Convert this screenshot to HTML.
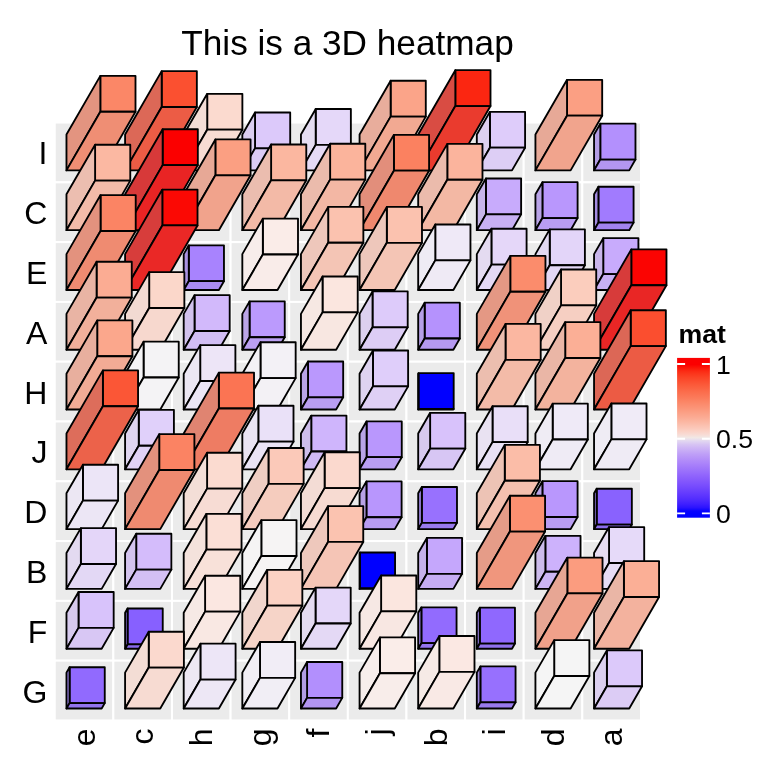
<!DOCTYPE html>
<html><head><meta charset="utf-8"><title>3D heatmap</title>
<style>html,body{margin:0;padding:0;background:#fff}svg{display:block}text{font-family:"Liberation Sans",sans-serif;fill:#000}</style>
</head><body>
<svg width="768" height="768" viewBox="0 0 768 768">
<rect width="768" height="768" fill="#fff"/>
<rect x="54.75" y="122.55" width="58.62" height="59.79" fill="#EBEBEB" stroke="#FFFFFF" stroke-width="2.0"/>
<rect x="113.37" y="122.55" width="58.62" height="59.79" fill="#EBEBEB" stroke="#FFFFFF" stroke-width="2.0"/>
<rect x="171.99" y="122.55" width="58.62" height="59.79" fill="#EBEBEB" stroke="#FFFFFF" stroke-width="2.0"/>
<rect x="230.61" y="122.55" width="58.62" height="59.79" fill="#EBEBEB" stroke="#FFFFFF" stroke-width="2.0"/>
<rect x="289.23" y="122.55" width="58.62" height="59.79" fill="#EBEBEB" stroke="#FFFFFF" stroke-width="2.0"/>
<rect x="347.85" y="122.55" width="58.62" height="59.79" fill="#EBEBEB" stroke="#FFFFFF" stroke-width="2.0"/>
<rect x="406.47" y="122.55" width="58.62" height="59.79" fill="#EBEBEB" stroke="#FFFFFF" stroke-width="2.0"/>
<rect x="465.09" y="122.55" width="58.62" height="59.79" fill="#EBEBEB" stroke="#FFFFFF" stroke-width="2.0"/>
<rect x="523.71" y="122.55" width="58.62" height="59.79" fill="#EBEBEB" stroke="#FFFFFF" stroke-width="2.0"/>
<rect x="582.33" y="122.55" width="58.62" height="59.79" fill="#EBEBEB" stroke="#FFFFFF" stroke-width="2.0"/>
<rect x="54.75" y="182.34" width="58.62" height="59.79" fill="#EBEBEB" stroke="#FFFFFF" stroke-width="2.0"/>
<rect x="113.37" y="182.34" width="58.62" height="59.79" fill="#EBEBEB" stroke="#FFFFFF" stroke-width="2.0"/>
<rect x="171.99" y="182.34" width="58.62" height="59.79" fill="#EBEBEB" stroke="#FFFFFF" stroke-width="2.0"/>
<rect x="230.61" y="182.34" width="58.62" height="59.79" fill="#EBEBEB" stroke="#FFFFFF" stroke-width="2.0"/>
<rect x="289.23" y="182.34" width="58.62" height="59.79" fill="#EBEBEB" stroke="#FFFFFF" stroke-width="2.0"/>
<rect x="347.85" y="182.34" width="58.62" height="59.79" fill="#EBEBEB" stroke="#FFFFFF" stroke-width="2.0"/>
<rect x="406.47" y="182.34" width="58.62" height="59.79" fill="#EBEBEB" stroke="#FFFFFF" stroke-width="2.0"/>
<rect x="465.09" y="182.34" width="58.62" height="59.79" fill="#EBEBEB" stroke="#FFFFFF" stroke-width="2.0"/>
<rect x="523.71" y="182.34" width="58.62" height="59.79" fill="#EBEBEB" stroke="#FFFFFF" stroke-width="2.0"/>
<rect x="582.33" y="182.34" width="58.62" height="59.79" fill="#EBEBEB" stroke="#FFFFFF" stroke-width="2.0"/>
<rect x="54.75" y="242.13" width="58.62" height="59.79" fill="#EBEBEB" stroke="#FFFFFF" stroke-width="2.0"/>
<rect x="113.37" y="242.13" width="58.62" height="59.79" fill="#EBEBEB" stroke="#FFFFFF" stroke-width="2.0"/>
<rect x="171.99" y="242.13" width="58.62" height="59.79" fill="#EBEBEB" stroke="#FFFFFF" stroke-width="2.0"/>
<rect x="230.61" y="242.13" width="58.62" height="59.79" fill="#EBEBEB" stroke="#FFFFFF" stroke-width="2.0"/>
<rect x="289.23" y="242.13" width="58.62" height="59.79" fill="#EBEBEB" stroke="#FFFFFF" stroke-width="2.0"/>
<rect x="347.85" y="242.13" width="58.62" height="59.79" fill="#EBEBEB" stroke="#FFFFFF" stroke-width="2.0"/>
<rect x="406.47" y="242.13" width="58.62" height="59.79" fill="#EBEBEB" stroke="#FFFFFF" stroke-width="2.0"/>
<rect x="465.09" y="242.13" width="58.62" height="59.79" fill="#EBEBEB" stroke="#FFFFFF" stroke-width="2.0"/>
<rect x="523.71" y="242.13" width="58.62" height="59.79" fill="#EBEBEB" stroke="#FFFFFF" stroke-width="2.0"/>
<rect x="582.33" y="242.13" width="58.62" height="59.79" fill="#EBEBEB" stroke="#FFFFFF" stroke-width="2.0"/>
<rect x="54.75" y="301.92" width="58.62" height="59.79" fill="#EBEBEB" stroke="#FFFFFF" stroke-width="2.0"/>
<rect x="113.37" y="301.92" width="58.62" height="59.79" fill="#EBEBEB" stroke="#FFFFFF" stroke-width="2.0"/>
<rect x="171.99" y="301.92" width="58.62" height="59.79" fill="#EBEBEB" stroke="#FFFFFF" stroke-width="2.0"/>
<rect x="230.61" y="301.92" width="58.62" height="59.79" fill="#EBEBEB" stroke="#FFFFFF" stroke-width="2.0"/>
<rect x="289.23" y="301.92" width="58.62" height="59.79" fill="#EBEBEB" stroke="#FFFFFF" stroke-width="2.0"/>
<rect x="347.85" y="301.92" width="58.62" height="59.79" fill="#EBEBEB" stroke="#FFFFFF" stroke-width="2.0"/>
<rect x="406.47" y="301.92" width="58.62" height="59.79" fill="#EBEBEB" stroke="#FFFFFF" stroke-width="2.0"/>
<rect x="465.09" y="301.92" width="58.62" height="59.79" fill="#EBEBEB" stroke="#FFFFFF" stroke-width="2.0"/>
<rect x="523.71" y="301.92" width="58.62" height="59.79" fill="#EBEBEB" stroke="#FFFFFF" stroke-width="2.0"/>
<rect x="582.33" y="301.92" width="58.62" height="59.79" fill="#EBEBEB" stroke="#FFFFFF" stroke-width="2.0"/>
<rect x="54.75" y="361.71" width="58.62" height="59.79" fill="#EBEBEB" stroke="#FFFFFF" stroke-width="2.0"/>
<rect x="113.37" y="361.71" width="58.62" height="59.79" fill="#EBEBEB" stroke="#FFFFFF" stroke-width="2.0"/>
<rect x="171.99" y="361.71" width="58.62" height="59.79" fill="#EBEBEB" stroke="#FFFFFF" stroke-width="2.0"/>
<rect x="230.61" y="361.71" width="58.62" height="59.79" fill="#EBEBEB" stroke="#FFFFFF" stroke-width="2.0"/>
<rect x="289.23" y="361.71" width="58.62" height="59.79" fill="#EBEBEB" stroke="#FFFFFF" stroke-width="2.0"/>
<rect x="347.85" y="361.71" width="58.62" height="59.79" fill="#EBEBEB" stroke="#FFFFFF" stroke-width="2.0"/>
<rect x="406.47" y="361.71" width="58.62" height="59.79" fill="#EBEBEB" stroke="#FFFFFF" stroke-width="2.0"/>
<rect x="465.09" y="361.71" width="58.62" height="59.79" fill="#EBEBEB" stroke="#FFFFFF" stroke-width="2.0"/>
<rect x="523.71" y="361.71" width="58.62" height="59.79" fill="#EBEBEB" stroke="#FFFFFF" stroke-width="2.0"/>
<rect x="582.33" y="361.71" width="58.62" height="59.79" fill="#EBEBEB" stroke="#FFFFFF" stroke-width="2.0"/>
<rect x="54.75" y="421.50" width="58.62" height="59.79" fill="#EBEBEB" stroke="#FFFFFF" stroke-width="2.0"/>
<rect x="113.37" y="421.50" width="58.62" height="59.79" fill="#EBEBEB" stroke="#FFFFFF" stroke-width="2.0"/>
<rect x="171.99" y="421.50" width="58.62" height="59.79" fill="#EBEBEB" stroke="#FFFFFF" stroke-width="2.0"/>
<rect x="230.61" y="421.50" width="58.62" height="59.79" fill="#EBEBEB" stroke="#FFFFFF" stroke-width="2.0"/>
<rect x="289.23" y="421.50" width="58.62" height="59.79" fill="#EBEBEB" stroke="#FFFFFF" stroke-width="2.0"/>
<rect x="347.85" y="421.50" width="58.62" height="59.79" fill="#EBEBEB" stroke="#FFFFFF" stroke-width="2.0"/>
<rect x="406.47" y="421.50" width="58.62" height="59.79" fill="#EBEBEB" stroke="#FFFFFF" stroke-width="2.0"/>
<rect x="465.09" y="421.50" width="58.62" height="59.79" fill="#EBEBEB" stroke="#FFFFFF" stroke-width="2.0"/>
<rect x="523.71" y="421.50" width="58.62" height="59.79" fill="#EBEBEB" stroke="#FFFFFF" stroke-width="2.0"/>
<rect x="582.33" y="421.50" width="58.62" height="59.79" fill="#EBEBEB" stroke="#FFFFFF" stroke-width="2.0"/>
<rect x="54.75" y="481.29" width="58.62" height="59.79" fill="#EBEBEB" stroke="#FFFFFF" stroke-width="2.0"/>
<rect x="113.37" y="481.29" width="58.62" height="59.79" fill="#EBEBEB" stroke="#FFFFFF" stroke-width="2.0"/>
<rect x="171.99" y="481.29" width="58.62" height="59.79" fill="#EBEBEB" stroke="#FFFFFF" stroke-width="2.0"/>
<rect x="230.61" y="481.29" width="58.62" height="59.79" fill="#EBEBEB" stroke="#FFFFFF" stroke-width="2.0"/>
<rect x="289.23" y="481.29" width="58.62" height="59.79" fill="#EBEBEB" stroke="#FFFFFF" stroke-width="2.0"/>
<rect x="347.85" y="481.29" width="58.62" height="59.79" fill="#EBEBEB" stroke="#FFFFFF" stroke-width="2.0"/>
<rect x="406.47" y="481.29" width="58.62" height="59.79" fill="#EBEBEB" stroke="#FFFFFF" stroke-width="2.0"/>
<rect x="465.09" y="481.29" width="58.62" height="59.79" fill="#EBEBEB" stroke="#FFFFFF" stroke-width="2.0"/>
<rect x="523.71" y="481.29" width="58.62" height="59.79" fill="#EBEBEB" stroke="#FFFFFF" stroke-width="2.0"/>
<rect x="582.33" y="481.29" width="58.62" height="59.79" fill="#EBEBEB" stroke="#FFFFFF" stroke-width="2.0"/>
<rect x="54.75" y="541.08" width="58.62" height="59.79" fill="#EBEBEB" stroke="#FFFFFF" stroke-width="2.0"/>
<rect x="113.37" y="541.08" width="58.62" height="59.79" fill="#EBEBEB" stroke="#FFFFFF" stroke-width="2.0"/>
<rect x="171.99" y="541.08" width="58.62" height="59.79" fill="#EBEBEB" stroke="#FFFFFF" stroke-width="2.0"/>
<rect x="230.61" y="541.08" width="58.62" height="59.79" fill="#EBEBEB" stroke="#FFFFFF" stroke-width="2.0"/>
<rect x="289.23" y="541.08" width="58.62" height="59.79" fill="#EBEBEB" stroke="#FFFFFF" stroke-width="2.0"/>
<rect x="347.85" y="541.08" width="58.62" height="59.79" fill="#EBEBEB" stroke="#FFFFFF" stroke-width="2.0"/>
<rect x="406.47" y="541.08" width="58.62" height="59.79" fill="#EBEBEB" stroke="#FFFFFF" stroke-width="2.0"/>
<rect x="465.09" y="541.08" width="58.62" height="59.79" fill="#EBEBEB" stroke="#FFFFFF" stroke-width="2.0"/>
<rect x="523.71" y="541.08" width="58.62" height="59.79" fill="#EBEBEB" stroke="#FFFFFF" stroke-width="2.0"/>
<rect x="582.33" y="541.08" width="58.62" height="59.79" fill="#EBEBEB" stroke="#FFFFFF" stroke-width="2.0"/>
<rect x="54.75" y="600.87" width="58.62" height="59.79" fill="#EBEBEB" stroke="#FFFFFF" stroke-width="2.0"/>
<rect x="113.37" y="600.87" width="58.62" height="59.79" fill="#EBEBEB" stroke="#FFFFFF" stroke-width="2.0"/>
<rect x="171.99" y="600.87" width="58.62" height="59.79" fill="#EBEBEB" stroke="#FFFFFF" stroke-width="2.0"/>
<rect x="230.61" y="600.87" width="58.62" height="59.79" fill="#EBEBEB" stroke="#FFFFFF" stroke-width="2.0"/>
<rect x="289.23" y="600.87" width="58.62" height="59.79" fill="#EBEBEB" stroke="#FFFFFF" stroke-width="2.0"/>
<rect x="347.85" y="600.87" width="58.62" height="59.79" fill="#EBEBEB" stroke="#FFFFFF" stroke-width="2.0"/>
<rect x="406.47" y="600.87" width="58.62" height="59.79" fill="#EBEBEB" stroke="#FFFFFF" stroke-width="2.0"/>
<rect x="465.09" y="600.87" width="58.62" height="59.79" fill="#EBEBEB" stroke="#FFFFFF" stroke-width="2.0"/>
<rect x="523.71" y="600.87" width="58.62" height="59.79" fill="#EBEBEB" stroke="#FFFFFF" stroke-width="2.0"/>
<rect x="582.33" y="600.87" width="58.62" height="59.79" fill="#EBEBEB" stroke="#FFFFFF" stroke-width="2.0"/>
<rect x="54.75" y="660.66" width="58.62" height="59.79" fill="#EBEBEB" stroke="#FFFFFF" stroke-width="2.0"/>
<rect x="113.37" y="660.66" width="58.62" height="59.79" fill="#EBEBEB" stroke="#FFFFFF" stroke-width="2.0"/>
<rect x="171.99" y="660.66" width="58.62" height="59.79" fill="#EBEBEB" stroke="#FFFFFF" stroke-width="2.0"/>
<rect x="230.61" y="660.66" width="58.62" height="59.79" fill="#EBEBEB" stroke="#FFFFFF" stroke-width="2.0"/>
<rect x="289.23" y="660.66" width="58.62" height="59.79" fill="#EBEBEB" stroke="#FFFFFF" stroke-width="2.0"/>
<rect x="347.85" y="660.66" width="58.62" height="59.79" fill="#EBEBEB" stroke="#FFFFFF" stroke-width="2.0"/>
<rect x="406.47" y="660.66" width="58.62" height="59.79" fill="#EBEBEB" stroke="#FFFFFF" stroke-width="2.0"/>
<rect x="465.09" y="660.66" width="58.62" height="59.79" fill="#EBEBEB" stroke="#FFFFFF" stroke-width="2.0"/>
<rect x="523.71" y="660.66" width="58.62" height="59.79" fill="#EBEBEB" stroke="#FFFFFF" stroke-width="2.0"/>
<rect x="582.33" y="660.66" width="58.62" height="59.79" fill="#EBEBEB" stroke="#FFFFFF" stroke-width="2.0"/>
<g stroke="#000" stroke-width="1.85" stroke-linejoin="round"><polygon fill="#B390FD" points="600.30,159.56 635.47,159.56 635.47,123.69 600.30,123.69"/><polygon fill="#B39DE5" points="594.05,170.38 600.30,159.56 600.30,123.69 594.05,134.51"/><polygon fill="#B396F1" points="594.05,170.38 629.23,170.38 635.47,159.56 600.30,159.56"/></g>
<g stroke="#000" stroke-width="1.85" stroke-linejoin="round"><polygon fill="#FB9F83" points="567.02,115.67 602.19,115.67 602.19,79.80 567.02,79.80"/><polygon fill="#E7A997" points="535.43,170.38 567.02,115.67 567.02,79.80 535.43,134.51"/><polygon fill="#F1A48D" points="535.43,170.38 570.61,170.38 602.19,115.67 567.02,115.67"/></g>
<g stroke="#000" stroke-width="1.85" stroke-linejoin="round"><polygon fill="#DECCFA" points="489.92,147.68 525.09,147.68 525.09,111.81 489.92,111.81"/><polygon fill="#DDD1F0" points="476.81,170.38 489.92,147.68 489.92,111.81 476.81,134.51"/><polygon fill="#DDCEF5" points="476.81,170.38 511.99,170.38 525.09,147.68 489.92,147.68"/></g>
<g stroke="#000" stroke-width="1.85" stroke-linejoin="round"><polygon fill="#FB2611" points="455.33,106.06 490.50,106.06 490.50,70.19 455.33,70.19"/><polygon fill="#D94C43" points="418.19,170.38 455.33,106.06 455.33,70.19 418.19,134.51"/><polygon fill="#EA3B2E" points="418.19,170.38 453.37,170.38 490.50,106.06 455.33,106.06"/></g>
<g stroke="#000" stroke-width="1.85" stroke-linejoin="round"><polygon fill="#FBA489" points="390.62,116.61 425.79,116.61 425.79,80.73 390.62,80.73"/><polygon fill="#E8AD9C" points="359.57,170.38 390.62,116.61 390.62,80.73 359.57,134.51"/><polygon fill="#F2A992" points="359.57,170.38 394.75,170.38 425.79,116.61 390.62,116.61"/></g>
<g stroke="#000" stroke-width="1.85" stroke-linejoin="round"><polygon fill="#E5D8F9" points="315.69,144.85 350.87,144.85 350.87,108.98 315.69,108.98"/><polygon fill="#E4DCF1" points="300.95,170.38 315.69,144.85 315.69,108.98 300.95,134.51"/><polygon fill="#E5DAF5" points="300.95,170.38 336.13,170.38 350.87,144.85 315.69,144.85"/></g>
<g stroke="#000" stroke-width="1.85" stroke-linejoin="round"><polygon fill="#DCC9FA" points="255.03,148.39 290.20,148.39 290.20,112.51 255.03,112.51"/><polygon fill="#DBCEEF" points="242.33,170.38 255.03,148.39 255.03,112.51 242.33,134.51"/><polygon fill="#DBCBF5" points="242.33,170.38 277.51,170.38 290.20,148.39 255.03,148.39"/></g>
<g stroke="#000" stroke-width="1.85" stroke-linejoin="round"><polygon fill="#FBDACF" points="207.21,129.69 242.38,129.69 242.38,93.81 207.21,93.81"/><polygon fill="#F3DDD6" points="183.71,170.38 207.21,129.69 207.21,93.81 183.71,134.51"/><polygon fill="#F7DCD3" points="183.71,170.38 218.89,170.38 242.38,129.69 207.21,129.69"/></g>
<g stroke="#000" stroke-width="1.85" stroke-linejoin="round"><polygon fill="#FB5030" points="161.68,107.02 196.85,107.02 196.85,71.15 161.68,71.15"/><polygon fill="#DC6857" points="125.09,170.38 161.68,107.02 161.68,71.15 125.09,134.51"/><polygon fill="#EC5C45" points="125.09,170.38 160.27,170.38 196.85,107.02 161.68,107.02"/></g>
<g stroke="#000" stroke-width="1.85" stroke-linejoin="round"><polygon fill="#FB8767" points="100.32,111.75 135.50,111.75 135.50,75.88 100.32,75.88"/><polygon fill="#E39480" points="66.47,170.38 100.32,111.75 100.32,75.88 66.47,134.51"/><polygon fill="#EF8E74" points="66.47,170.38 101.65,170.38 135.50,111.75 100.32,111.75"/></g>
<g stroke="#000" stroke-width="1.85" stroke-linejoin="round"><polygon fill="#A17BFE" points="598.41,222.62 633.58,222.62 633.58,186.75 598.41,186.75"/><polygon fill="#A38BE1" points="594.05,230.17 598.41,222.62 598.41,186.75 594.05,194.30"/><polygon fill="#A283EF" points="594.05,230.17 629.23,230.17 633.58,222.62 598.41,222.62"/></g>
<g stroke="#000" stroke-width="1.85" stroke-linejoin="round"><polygon fill="#B997FD" points="542.43,218.05 577.60,218.05 577.60,182.18 542.43,182.18"/><polygon fill="#B9A3E7" points="535.43,230.17 542.43,218.05 542.43,182.18 535.43,194.30"/><polygon fill="#B99DF2" points="535.43,230.17 570.61,230.17 577.60,218.05 542.43,218.05"/></g>
<g stroke="#000" stroke-width="1.85" stroke-linejoin="round"><polygon fill="#C8ABFC" points="485.94,214.37 521.11,214.37 521.11,178.50 485.94,178.50"/><polygon fill="#C7B5EA" points="476.81,230.17 485.94,214.37 485.94,178.50 476.81,194.30"/><polygon fill="#C8B0F3" points="476.81,230.17 511.99,230.17 521.11,214.37 485.94,214.37"/></g>
<g stroke="#000" stroke-width="1.85" stroke-linejoin="round"><polygon fill="#FBB49D" points="447.31,179.74 482.48,179.74 482.48,143.87 447.31,143.87"/><polygon fill="#EBBBAC" points="418.19,230.17 447.31,179.74 447.31,143.87 418.19,194.30"/><polygon fill="#F3B8A4" points="418.19,230.17 453.37,230.17 482.48,179.74 447.31,179.74"/></g>
<g stroke="#000" stroke-width="1.85" stroke-linejoin="round"><polygon fill="#FB8160" points="393.92,170.69 429.09,170.69 429.09,134.81 393.92,134.81"/><polygon fill="#E28E7B" points="359.57,230.17 393.92,170.69 393.92,134.81 359.57,194.30"/><polygon fill="#EF886E" points="359.57,230.17 394.75,230.17 429.09,170.69 393.92,170.69"/></g>
<g stroke="#000" stroke-width="1.85" stroke-linejoin="round"><polygon fill="#FBB49C" points="330.12,179.66 365.29,179.66 365.29,143.79 330.12,143.79"/><polygon fill="#EBBBAC" points="300.95,230.17 330.12,179.66 330.12,143.79 300.95,194.30"/><polygon fill="#F3B7A4" points="300.95,230.17 336.13,230.17 365.29,179.66 330.12,179.66"/></g>
<g stroke="#000" stroke-width="1.85" stroke-linejoin="round"><polygon fill="#FBB7A0" points="271.11,180.33 306.28,180.33 306.28,144.45 271.11,144.45"/><polygon fill="#EBBDAF" points="242.33,230.17 271.11,180.33 271.11,144.45 242.33,194.30"/><polygon fill="#F3BAA7" points="242.33,230.17 277.51,230.17 306.28,180.33 271.11,180.33"/></g>
<g stroke="#000" stroke-width="1.85" stroke-linejoin="round"><polygon fill="#FB9F82" points="215.39,175.31 250.56,175.31 250.56,139.44 215.39,139.44"/><polygon fill="#E7A896" points="183.71,230.17 215.39,175.31 215.39,139.44 183.71,194.30"/><polygon fill="#F1A38C" points="183.71,230.17 218.89,230.17 250.56,175.31 215.39,175.31"/></g>
<g stroke="#000" stroke-width="1.85" stroke-linejoin="round"><polygon fill="#FB0000" points="162.64,165.13 197.82,165.13 197.82,129.26 162.64,129.26"/><polygon fill="#D73939" points="125.09,230.17 162.64,165.13 162.64,129.26 125.09,194.30"/><polygon fill="#E92424" points="125.09,230.17 160.27,230.17 197.82,165.13 162.64,165.13"/></g>
<g stroke="#000" stroke-width="1.85" stroke-linejoin="round"><polygon fill="#FBB8A2" points="95.10,180.60 130.27,180.60 130.27,144.72 95.10,144.72"/><polygon fill="#ECBEB0" points="66.47,230.17 95.10,180.60 95.10,144.72 66.47,194.30"/><polygon fill="#F3BBA9" points="66.47,230.17 101.65,230.17 130.27,180.60 95.10,180.60"/></g>
<g stroke="#000" stroke-width="1.85" stroke-linejoin="round"><polygon fill="#C8ABFC" points="603.24,274.06 638.41,274.06 638.41,238.18 603.24,238.18"/><polygon fill="#C8B5EA" points="594.05,289.96 603.24,274.06 603.24,238.18 594.05,254.09"/><polygon fill="#C8B0F3" points="594.05,289.96 629.23,289.96 638.41,274.06 603.24,274.06"/></g>
<g stroke="#000" stroke-width="1.85" stroke-linejoin="round"><polygon fill="#E3D5F9" points="549.72,265.21 584.90,265.21 584.90,229.34 549.72,229.34"/><polygon fill="#E2D9F1" points="535.43,289.96 549.72,265.21 549.72,229.34 535.43,254.09"/><polygon fill="#E3D7F5" points="535.43,289.96 570.61,289.96 584.90,265.21 549.72,265.21"/></g>
<g stroke="#000" stroke-width="1.85" stroke-linejoin="round"><polygon fill="#E5D7F9" points="491.42,264.67 526.59,264.67 526.59,228.79 491.42,228.79"/><polygon fill="#E4DBF1" points="476.81,289.96 491.42,264.67 491.42,228.79 476.81,254.09"/><polygon fill="#E4D9F5" points="476.81,289.96 511.99,289.96 526.59,264.67 491.42,264.67"/></g>
<g stroke="#000" stroke-width="1.85" stroke-linejoin="round"><polygon fill="#EFE9F7" points="435.28,260.37 470.45,260.37 470.45,224.50 435.28,224.50"/><polygon fill="#EEEBF4" points="418.19,289.96 435.28,260.37 435.28,224.50 418.19,254.09"/><polygon fill="#EFEAF5" points="418.19,289.96 453.37,289.96 470.45,260.37 435.28,260.37"/></g>
<g stroke="#000" stroke-width="1.85" stroke-linejoin="round"><polygon fill="#FBC2AF" points="386.81,242.80 421.98,242.80 421.98,206.92 386.81,206.92"/><polygon fill="#EEC7BB" points="359.57,289.96 386.81,242.80 386.81,206.92 359.57,254.09"/><polygon fill="#F4C5B5" points="359.57,289.96 394.75,289.96 421.98,242.80 386.81,242.80"/></g>
<g stroke="#000" stroke-width="1.85" stroke-linejoin="round"><polygon fill="#FBC2AF" points="328.19,242.78 363.36,242.78 363.36,206.91 328.19,206.91"/><polygon fill="#EEC7BB" points="300.95,289.96 328.19,242.78 328.19,206.91 300.95,254.09"/><polygon fill="#F4C5B5" points="300.95,289.96 336.13,289.96 363.36,242.78 328.19,242.78"/></g>
<g stroke="#000" stroke-width="1.85" stroke-linejoin="round"><polygon fill="#FAECE8" points="262.83,254.46 298.00,254.46 298.00,218.59 262.83,218.59"/><polygon fill="#F7EDEB" points="242.33,289.96 262.83,254.46 262.83,218.59 242.33,254.09"/><polygon fill="#F9ECE9" points="242.33,289.96 277.51,289.96 298.00,254.46 262.83,254.46"/></g>
<g stroke="#000" stroke-width="1.85" stroke-linejoin="round"><polygon fill="#A883FE" points="188.78,281.18 223.96,281.18 223.96,245.31 188.78,245.31"/><polygon fill="#A992E2" points="183.71,289.96 188.78,281.18 188.78,245.31 183.71,254.09"/><polygon fill="#A98BF0" points="183.71,289.96 218.89,289.96 223.96,281.18 188.78,281.18"/></g>
<g stroke="#000" stroke-width="1.85" stroke-linejoin="round"><polygon fill="#FB0904" points="162.34,225.44 197.52,225.44 197.52,189.57 162.34,189.57"/><polygon fill="#D73D3B" points="125.09,289.96 162.34,225.44 162.34,189.57 125.09,254.09"/><polygon fill="#EA2826" points="125.09,289.96 160.27,289.96 197.52,225.44 162.34,225.44"/></g>
<g stroke="#000" stroke-width="1.85" stroke-linejoin="round"><polygon fill="#FB8464" points="100.54,230.96 135.71,230.96 135.71,195.08 100.54,195.08"/><polygon fill="#E3927E" points="66.47,289.96 100.54,230.96 100.54,195.08 66.47,254.09"/><polygon fill="#EF8B71" points="66.47,289.96 101.65,289.96 135.71,230.96 100.54,230.96"/></g>
<g stroke="#000" stroke-width="1.85" stroke-linejoin="round"><polygon fill="#FB0402" points="631.31,285.22 666.48,285.22 666.48,249.35 631.31,249.35"/><polygon fill="#D73B3A" points="594.05,349.75 631.31,285.22 631.31,249.35 594.05,313.88"/><polygon fill="#E92625" points="594.05,349.75 629.23,349.75 666.48,285.22 631.31,285.22"/></g>
<g stroke="#000" stroke-width="1.85" stroke-linejoin="round"><polygon fill="#FBCDBD" points="561.05,305.38 596.22,305.38 596.22,269.51 561.05,269.51"/><polygon fill="#F0D1C7" points="535.43,349.75 561.05,305.38 561.05,269.51 535.43,313.88"/><polygon fill="#F6CFC2" points="535.43,349.75 570.61,349.75 596.22,305.38 561.05,305.38"/></g>
<g stroke="#000" stroke-width="1.85" stroke-linejoin="round"><polygon fill="#FB8C6C" points="510.29,291.77 545.46,291.77 545.46,255.90 510.29,255.90"/><polygon fill="#E49884" points="476.81,349.75 510.29,291.77 510.29,255.90 476.81,313.88"/><polygon fill="#F09279" points="476.81,349.75 511.99,349.75 545.46,291.77 510.29,291.77"/></g>
<g stroke="#000" stroke-width="1.85" stroke-linejoin="round"><polygon fill="#B592FD" points="424.66,338.54 459.84,338.54 459.84,302.67 424.66,302.67"/><polygon fill="#B59FE6" points="418.19,349.75 424.66,338.54 424.66,302.67 418.19,313.88"/><polygon fill="#B599F1" points="418.19,349.75 453.37,349.75 459.84,338.54 424.66,338.54"/></g>
<g stroke="#000" stroke-width="1.85" stroke-linejoin="round"><polygon fill="#DDCBFA" points="372.53,327.30 407.71,327.30 407.71,291.43 372.53,291.43"/><polygon fill="#DCD0EF" points="359.57,349.75 372.53,327.30 372.53,291.43 359.57,313.88"/><polygon fill="#DDCDF5" points="359.57,349.75 394.75,349.75 407.71,327.30 372.53,327.30"/></g>
<g stroke="#000" stroke-width="1.85" stroke-linejoin="round"><polygon fill="#FBE6DF" points="322.54,312.36 357.72,312.36 357.72,276.48 322.54,276.48"/><polygon fill="#F6E8E3" points="300.95,349.75 322.54,312.36 322.54,276.48 300.95,313.88"/><polygon fill="#F8E7E1" points="300.95,349.75 336.13,349.75 357.72,312.36 322.54,312.36"/></g>
<g stroke="#000" stroke-width="1.85" stroke-linejoin="round"><polygon fill="#BB9AFD" points="249.56,337.23 284.74,337.23 284.74,301.35 249.56,301.35"/><polygon fill="#BBA5E7" points="242.33,349.75 249.56,337.23 249.56,301.35 242.33,313.88"/><polygon fill="#BBA0F2" points="242.33,349.75 277.51,349.75 284.74,337.23 249.56,337.23"/></g>
<g stroke="#000" stroke-width="1.85" stroke-linejoin="round"><polygon fill="#D2B9FB" points="194.53,331.02 229.70,331.02 229.70,295.15 194.53,295.15"/><polygon fill="#D1C1ED" points="183.71,349.75 194.53,331.02 194.53,295.15 183.71,313.88"/><polygon fill="#D1BDF4" points="183.71,349.75 218.89,349.75 229.70,331.02 194.53,331.02"/></g>
<g stroke="#000" stroke-width="1.85" stroke-linejoin="round"><polygon fill="#FBD7CA" points="149.18,308.03 184.36,308.03 184.36,272.15 149.18,272.15"/><polygon fill="#F2DAD2" points="125.09,349.75 149.18,308.03 149.18,272.15 125.09,313.88"/><polygon fill="#F7D8CE" points="125.09,349.75 160.27,349.75 184.36,308.03 149.18,308.03"/></g>
<g stroke="#000" stroke-width="1.85" stroke-linejoin="round"><polygon fill="#FBAC93" points="96.59,297.58 131.77,297.58 131.77,261.71 96.59,261.71"/><polygon fill="#E9B4A4" points="66.47,349.75 96.59,297.58 96.59,261.71 66.47,313.88"/><polygon fill="#F2B09B" points="66.47,349.75 101.65,349.75 131.77,297.58 96.59,297.58"/></g>
<g stroke="#000" stroke-width="1.85" stroke-linejoin="round"><polygon fill="#FB4E2F" points="630.68,346.11 665.85,346.11 665.85,310.24 630.68,310.24"/><polygon fill="#DC6756" points="594.05,409.54 630.68,346.11 630.68,310.24 594.05,373.67"/><polygon fill="#EC5B44" points="594.05,409.54 629.23,409.54 665.85,346.11 630.68,346.11"/></g>
<g stroke="#000" stroke-width="1.85" stroke-linejoin="round"><polygon fill="#FBAF96" points="565.22,357.95 600.39,357.95 600.39,322.08 565.22,322.08"/><polygon fill="#EAB6A6" points="535.43,409.54 565.22,357.95 565.22,322.08 535.43,373.67"/><polygon fill="#F3B39E" points="535.43,409.54 570.61,409.54 600.39,357.95 565.22,357.95"/></g>
<g stroke="#000" stroke-width="1.85" stroke-linejoin="round"><polygon fill="#FBB7A1" points="505.53,359.81 540.70,359.81 540.70,323.94 505.53,323.94"/><polygon fill="#ECBEAF" points="476.81,409.54 505.53,359.81 505.53,323.94 476.81,373.67"/><polygon fill="#F3BBA8" points="476.81,409.54 511.99,409.54 540.70,359.81 505.53,359.81"/></g>
<g stroke="#000" stroke-width="1.85" stroke-linejoin="round"><polygon fill="#0100FF" points="418.52,408.97 453.69,408.97 453.69,373.10 418.52,373.10"/><polygon fill="#3433C2" points="418.19,409.54 418.52,408.97 418.52,373.10 418.19,373.67"/><polygon fill="#2222DE" points="418.19,409.54 453.37,409.54 453.69,408.97 418.52,408.97"/></g>
<g stroke="#000" stroke-width="1.85" stroke-linejoin="round"><polygon fill="#DFCEFA" points="372.95,386.38 408.12,386.38 408.12,350.51 372.95,350.51"/><polygon fill="#DED3F0" points="359.57,409.54 372.95,386.38 372.95,350.51 359.57,373.67"/><polygon fill="#DFD0F5" points="359.57,409.54 394.75,409.54 408.12,386.38 372.95,386.38"/></g>
<g stroke="#000" stroke-width="1.85" stroke-linejoin="round"><polygon fill="#BA98FD" points="308.01,397.32 343.18,397.32 343.18,361.45 308.01,361.45"/><polygon fill="#B9A4E7" points="300.95,409.54 308.01,397.32 308.01,361.45 300.95,373.67"/><polygon fill="#B99EF2" points="300.95,409.54 336.13,409.54 343.18,397.32 308.01,397.32"/></g>
<g stroke="#000" stroke-width="1.85" stroke-linejoin="round"><polygon fill="#F3F1F6" points="260.49,378.10 295.66,378.10 295.66,342.23 260.49,342.23"/><polygon fill="#F3F1F5" points="242.33,409.54 260.49,378.10 260.49,342.23 242.33,373.67"/><polygon fill="#F3F1F5" points="242.33,409.54 277.51,409.54 295.66,378.10 260.49,378.10"/></g>
<g stroke="#000" stroke-width="1.85" stroke-linejoin="round"><polygon fill="#EDE5F7" points="200.21,380.96 235.39,380.96 235.39,345.09 200.21,345.09"/><polygon fill="#ECE7F3" points="183.71,409.54 200.21,380.96 200.21,345.09 183.71,373.67"/><polygon fill="#ECE6F5" points="183.71,409.54 218.89,409.54 235.39,380.96 200.21,380.96"/></g>
<g stroke="#000" stroke-width="1.85" stroke-linejoin="round"><polygon fill="#F4F3F5" points="143.57,377.54 178.74,377.54 178.74,341.66 143.57,341.66"/><polygon fill="#F4F3F5" points="125.09,409.54 143.57,377.54 143.57,341.66 125.09,373.67"/><polygon fill="#F4F3F5" points="125.09,409.54 160.27,409.54 178.74,377.54 143.57,377.54"/></g>
<g stroke="#000" stroke-width="1.85" stroke-linejoin="round"><polygon fill="#FBA78C" points="97.23,356.28 132.40,356.28 132.40,320.40 97.23,320.40"/><polygon fill="#E8AF9E" points="66.47,409.54 97.23,356.28 97.23,320.40 66.47,373.67"/><polygon fill="#F2AB95" points="66.47,409.54 101.65,409.54 132.40,356.28 97.23,356.28"/></g>
<g stroke="#000" stroke-width="1.85" stroke-linejoin="round"><polygon fill="#F0EBF7" points="611.35,439.37 646.52,439.37 646.52,403.50 611.35,403.50"/><polygon fill="#EFECF4" points="594.05,469.33 611.35,439.37 611.35,403.50 594.05,433.46"/><polygon fill="#EFEBF5" points="594.05,469.33 629.23,469.33 646.52,439.37 611.35,439.37"/></g>
<g stroke="#000" stroke-width="1.85" stroke-linejoin="round"><polygon fill="#EFEAF7" points="552.65,439.52 587.82,439.52 587.82,403.64 552.65,403.64"/><polygon fill="#EFECF4" points="535.43,469.33 552.65,439.52 552.65,403.64 535.43,433.46"/><polygon fill="#EFEBF5" points="535.43,469.33 570.61,469.33 587.82,439.52 552.65,439.52"/></g>
<g stroke="#000" stroke-width="1.85" stroke-linejoin="round"><polygon fill="#E9DFF8" points="492.52,442.14 527.69,442.14 527.69,406.26 492.52,406.26"/><polygon fill="#E9E2F2" points="476.81,469.33 492.52,442.14 492.52,406.26 476.81,433.46"/><polygon fill="#E9E1F5" points="476.81,469.33 511.99,469.33 527.69,442.14 492.52,442.14"/></g>
<g stroke="#000" stroke-width="1.85" stroke-linejoin="round"><polygon fill="#D8C2FB" points="430.12,448.67 465.29,448.67 465.29,412.80 430.12,412.80"/><polygon fill="#D7C9EE" points="418.19,469.33 430.12,448.67 430.12,412.80 418.19,433.46"/><polygon fill="#D7C6F4" points="418.19,469.33 453.37,469.33 465.29,448.67 430.12,448.67"/></g>
<g stroke="#000" stroke-width="1.85" stroke-linejoin="round"><polygon fill="#B997FD" points="366.59,457.19 401.76,457.19 401.76,421.31 366.59,421.31"/><polygon fill="#B9A4E7" points="359.57,469.33 366.59,457.19 366.59,421.31 359.57,433.46"/><polygon fill="#B99EF2" points="359.57,469.33 394.75,469.33 401.76,457.19 366.59,457.19"/></g>
<g stroke="#000" stroke-width="1.85" stroke-linejoin="round"><polygon fill="#CFB5FC" points="311.27,451.46 346.45,451.46 346.45,415.58 311.27,415.58"/><polygon fill="#CEBDEC" points="300.95,469.33 311.27,451.46 311.27,415.58 300.95,433.46"/><polygon fill="#CFB9F4" points="300.95,469.33 336.13,469.33 346.45,451.46 311.27,451.46"/></g>
<g stroke="#000" stroke-width="1.85" stroke-linejoin="round"><polygon fill="#EAE1F8" points="258.33,441.63 293.50,441.63 293.50,405.76 258.33,405.76"/><polygon fill="#EAE4F3" points="242.33,469.33 258.33,441.63 258.33,405.76 242.33,433.46"/><polygon fill="#EAE3F5" points="242.33,469.33 277.51,469.33 293.50,441.63 258.33,441.63"/></g>
<g stroke="#000" stroke-width="1.85" stroke-linejoin="round"><polygon fill="#FB7453" points="218.85,408.47 254.02,408.47 254.02,372.60 218.85,372.60"/><polygon fill="#E08471" points="183.71,469.33 218.85,408.47 218.85,372.60 183.71,433.46"/><polygon fill="#EE7C63" points="183.71,469.33 218.89,469.33 254.02,408.47 218.85,408.47"/></g>
<g stroke="#000" stroke-width="1.85" stroke-linejoin="round"><polygon fill="#E0D0FA" points="138.74,445.70 173.91,445.70 173.91,409.82 138.74,409.82"/><polygon fill="#DFD5F0" points="125.09,469.33 138.74,445.70 138.74,409.82 125.09,433.46"/><polygon fill="#E0D2F5" points="125.09,469.33 160.27,469.33 173.91,445.70 138.74,445.70"/></g>
<g stroke="#000" stroke-width="1.85" stroke-linejoin="round"><polygon fill="#FB5636" points="102.89,406.26 138.06,406.26 138.06,370.39 102.89,370.39"/><polygon fill="#DD6D5B" points="66.47,469.33 102.89,406.26 102.89,370.39 66.47,433.46"/><polygon fill="#EC624A" points="66.47,469.33 101.65,469.33 138.06,406.26 102.89,406.26"/></g>
<g stroke="#000" stroke-width="1.85" stroke-linejoin="round"><polygon fill="#8962FE" points="596.68,524.57 631.85,524.57 631.85,488.70 596.68,488.70"/><polygon fill="#8E77DB" points="594.05,529.12 596.68,524.57 596.68,488.70 594.05,493.25"/><polygon fill="#8C6DEC" points="594.05,529.12 629.23,529.12 631.85,524.57 596.68,524.57"/></g>
<g stroke="#000" stroke-width="1.85" stroke-linejoin="round"><polygon fill="#B997FD" points="542.41,517.04 577.58,517.04 577.58,481.17 542.41,481.17"/><polygon fill="#B9A3E6" points="535.43,529.12 542.41,517.04 542.41,481.17 535.43,493.25"/><polygon fill="#B99DF2" points="535.43,529.12 570.61,529.12 577.58,517.04 542.41,517.04"/></g>
<g stroke="#000" stroke-width="1.85" stroke-linejoin="round"><polygon fill="#FBBDA8" points="504.75,480.74 539.92,480.74 539.92,444.87 504.75,444.87"/><polygon fill="#EDC3B5" points="476.81,529.12 504.75,480.74 504.75,444.87 476.81,493.25"/><polygon fill="#F4C0AF" points="476.81,529.12 511.99,529.12 539.92,480.74 504.75,480.74"/></g>
<g stroke="#000" stroke-width="1.85" stroke-linejoin="round"><polygon fill="#9871FE" points="421.82,522.84 456.99,522.84 456.99,486.96 421.82,486.96"/><polygon fill="#9B83DF" points="418.19,529.12 421.82,522.84 421.82,486.96 418.19,493.25"/><polygon fill="#997AEE" points="418.19,529.12 453.37,529.12 456.99,522.84 421.82,522.84"/></g>
<g stroke="#000" stroke-width="1.85" stroke-linejoin="round"><polygon fill="#B896FD" points="366.44,517.23 401.61,517.23 401.61,481.36 366.44,481.36"/><polygon fill="#B8A2E6" points="359.57,529.12 366.44,517.23 366.44,481.36 359.57,493.25"/><polygon fill="#B89CF2" points="359.57,529.12 394.75,529.12 401.61,517.23 366.44,517.23"/></g>
<g stroke="#000" stroke-width="1.85" stroke-linejoin="round"><polygon fill="#FBD9CE" points="324.60,488.16 359.78,488.16 359.78,452.28 324.60,452.28"/><polygon fill="#F3DCD5" points="300.95,529.12 324.60,488.16 324.60,452.28 300.95,493.25"/><polygon fill="#F7DBD2" points="300.95,529.12 336.13,529.12 359.78,488.16 324.60,488.16"/></g>
<g stroke="#000" stroke-width="1.85" stroke-linejoin="round"><polygon fill="#FBC9B9" points="268.47,483.86 303.64,483.86 303.64,447.98 268.47,447.98"/><polygon fill="#EFCEC3" points="242.33,529.12 268.47,483.86 268.47,447.98 242.33,493.25"/><polygon fill="#F5CCBE" points="242.33,529.12 277.51,529.12 303.64,483.86 268.47,483.86"/></g>
<g stroke="#000" stroke-width="1.85" stroke-linejoin="round"><polygon fill="#FBDBD0" points="207.10,488.61 242.28,488.61 242.28,452.74 207.10,452.74"/><polygon fill="#F3DED7" points="183.71,529.12 207.10,488.61 207.10,452.74 183.71,493.25"/><polygon fill="#F7DCD4" points="183.71,529.12 218.89,529.12 242.28,488.61 207.10,488.61"/></g>
<g stroke="#000" stroke-width="1.85" stroke-linejoin="round"><polygon fill="#FB8363" points="159.23,470.00 194.40,470.00 194.40,434.13 159.23,434.13"/><polygon fill="#E3917D" points="125.09,529.12 159.23,470.00 159.23,434.13 125.09,493.25"/><polygon fill="#EF8A70" points="125.09,529.12 160.27,529.12 194.40,470.00 159.23,470.00"/></g>
<g stroke="#000" stroke-width="1.85" stroke-linejoin="round"><polygon fill="#ECE5F7" points="82.93,500.62 118.10,500.62 118.10,464.75 82.93,464.75"/><polygon fill="#ECE7F3" points="66.47,529.12 82.93,500.62 82.93,464.75 66.47,493.25"/><polygon fill="#ECE6F5" points="66.47,529.12 101.65,529.12 118.10,500.62 82.93,500.62"/></g>
<g stroke="#000" stroke-width="1.85" stroke-linejoin="round"><polygon fill="#E6DAF9" points="609.04,562.96 644.21,562.96 644.21,527.08 609.04,527.08"/><polygon fill="#E6DDF2" points="594.05,588.91 609.04,562.96 609.04,527.08 594.05,553.04"/><polygon fill="#E6DCF5" points="594.05,588.91 629.23,588.91 644.21,562.96 609.04,562.96"/></g>
<g stroke="#000" stroke-width="1.85" stroke-linejoin="round"><polygon fill="#CDB2FC" points="545.37,571.70 580.54,571.70 580.54,535.83 545.37,535.83"/><polygon fill="#CCBBEB" points="535.43,588.91 545.37,571.70 545.37,535.83 535.43,553.04"/><polygon fill="#CCB6F4" points="535.43,588.91 570.61,588.91 580.54,571.70 545.37,571.70"/></g>
<g stroke="#000" stroke-width="1.85" stroke-linejoin="round"><polygon fill="#FB9071" points="509.91,531.58 545.08,531.58 545.08,495.71 509.91,495.71"/><polygon fill="#E59C88" points="476.81,588.91 509.91,531.58 509.91,495.71 476.81,553.04"/><polygon fill="#F0967D" points="476.81,588.91 511.99,588.91 545.08,531.58 509.91,531.58"/></g>
<g stroke="#000" stroke-width="1.85" stroke-linejoin="round"><polygon fill="#C5A7FC" points="426.91,573.81 462.09,573.81 462.09,537.93 426.91,537.93"/><polygon fill="#C5B1EA" points="418.19,588.91 426.91,573.81 426.91,537.93 418.19,553.04"/><polygon fill="#C5ACF3" points="418.19,588.91 453.37,588.91 462.09,573.81 426.91,573.81"/></g>
<g stroke="#000" stroke-width="1.85" stroke-linejoin="round"><polygon fill="#0000FF" points="359.89,588.36 395.06,588.36 395.06,552.49 359.89,552.49"/><polygon fill="#3333C2" points="359.57,588.91 359.89,588.36 359.89,552.49 359.57,553.04"/><polygon fill="#2222DE" points="359.57,588.91 394.75,588.91 395.06,588.36 359.89,588.36"/></g>
<g stroke="#000" stroke-width="1.85" stroke-linejoin="round"><polygon fill="#FBC3B0" points="328.08,541.92 363.25,541.92 363.25,506.05 328.08,506.05"/><polygon fill="#EEC8BC" points="300.95,588.91 328.08,541.92 328.08,506.05 300.95,553.04"/><polygon fill="#F5C5B6" points="300.95,588.91 336.13,588.91 363.25,541.92 328.08,541.92"/></g>
<g stroke="#000" stroke-width="1.85" stroke-linejoin="round"><polygon fill="#F6F4F4" points="261.34,556.00 296.51,556.00 296.51,520.12 261.34,520.12"/><polygon fill="#F5F4F4" points="242.33,588.91 261.34,556.00 261.34,520.12 242.33,553.04"/><polygon fill="#F6F4F4" points="242.33,588.91 277.51,588.91 296.51,556.00 261.34,556.00"/></g>
<g stroke="#000" stroke-width="1.85" stroke-linejoin="round"><polygon fill="#FBDFD6" points="206.36,549.68 241.54,549.68 241.54,513.81 206.36,513.81"/><polygon fill="#F4E2DC" points="183.71,588.91 206.36,549.68 206.36,513.81 183.71,553.04"/><polygon fill="#F8E1D9" points="183.71,588.91 218.89,588.91 241.54,549.68 206.36,549.68"/></g>
<g stroke="#000" stroke-width="1.85" stroke-linejoin="round"><polygon fill="#D4BCFB" points="136.22,569.65 171.39,569.65 171.39,533.77 136.22,533.77"/><polygon fill="#D3C3ED" points="125.09,588.91 136.22,569.65 136.22,533.77 125.09,553.04"/><polygon fill="#D3C0F4" points="125.09,588.91 160.27,588.91 171.39,569.65 136.22,569.65"/></g>
<g stroke="#000" stroke-width="1.85" stroke-linejoin="round"><polygon fill="#E4D6F9" points="80.86,563.99 116.04,563.99 116.04,528.11 80.86,528.11"/><polygon fill="#E3DAF1" points="66.47,588.91 80.86,563.99 80.86,528.11 66.47,553.04"/><polygon fill="#E3D8F5" points="66.47,588.91 101.65,588.91 116.04,563.99 80.86,563.99"/></g>
<g stroke="#000" stroke-width="1.85" stroke-linejoin="round"><polygon fill="#FBAF96" points="623.89,597.02 659.06,597.02 659.06,561.15 623.89,561.15"/><polygon fill="#EAB6A6" points="594.05,648.70 623.89,597.02 623.89,561.15 594.05,612.83"/><polygon fill="#F3B29E" points="594.05,648.70 629.23,648.70 659.06,597.02 623.89,597.02"/></g>
<g stroke="#000" stroke-width="1.85" stroke-linejoin="round"><polygon fill="#FB9C7F" points="567.34,593.43 602.52,593.43 602.52,557.56 567.34,557.56"/><polygon fill="#E7A694" points="535.43,648.70 567.34,593.43 567.34,557.56 535.43,612.83"/><polygon fill="#F1A18A" points="535.43,648.70 570.61,648.70 602.52,593.43 567.34,593.43"/></g>
<g stroke="#000" stroke-width="1.85" stroke-linejoin="round"><polygon fill="#8F68FE" points="479.79,643.55 514.96,643.55 514.96,607.68 479.79,607.68"/><polygon fill="#937BDC" points="476.81,648.70 479.79,643.55 479.79,607.68 476.81,612.83"/><polygon fill="#9172ED" points="476.81,648.70 511.99,648.70 514.96,643.55 479.79,643.55"/></g>
<g stroke="#000" stroke-width="1.85" stroke-linejoin="round"><polygon fill="#926BFE" points="421.39,643.17 456.56,643.17 456.56,607.30 421.39,607.30"/><polygon fill="#957EDD" points="418.19,648.70 421.39,643.17 421.39,607.30 418.19,612.83"/><polygon fill="#9475EE" points="418.19,648.70 453.37,648.70 456.56,643.17 421.39,643.17"/></g>
<g stroke="#000" stroke-width="1.85" stroke-linejoin="round"><polygon fill="#FBE6DF" points="381.12,611.38 416.29,611.38 416.29,575.51 381.12,575.51"/><polygon fill="#F6E8E4" points="359.57,648.70 381.12,611.38 381.12,575.51 359.57,612.83"/><polygon fill="#F8E7E2" points="359.57,648.70 394.75,648.70 416.29,611.38 381.12,611.38"/></g>
<g stroke="#000" stroke-width="1.85" stroke-linejoin="round"><polygon fill="#E4D7F9" points="315.53,623.46 350.70,623.46 350.70,587.59 315.53,587.59"/><polygon fill="#E4DBF1" points="300.95,648.70 315.53,623.46 315.53,587.59 300.95,612.83"/><polygon fill="#E4D9F5" points="300.95,648.70 336.13,648.70 350.70,623.46 315.53,623.46"/></g>
<g stroke="#000" stroke-width="1.85" stroke-linejoin="round"><polygon fill="#FBD2C4" points="267.16,605.69 302.34,605.69 302.34,569.82 267.16,569.82"/><polygon fill="#F1D6CD" points="242.33,648.70 267.16,605.69 267.16,569.82 242.33,612.83"/><polygon fill="#F6D4C8" points="242.33,648.70 277.51,648.70 302.34,605.69 267.16,605.69"/></g>
<g stroke="#000" stroke-width="1.85" stroke-linejoin="round"><polygon fill="#FBE7E1" points="205.10,611.66 240.27,611.66 240.27,575.78 205.10,575.78"/><polygon fill="#F6E9E5" points="183.71,648.70 205.10,611.66 205.10,575.78 183.71,612.83"/><polygon fill="#F9E8E3" points="183.71,648.70 218.89,648.70 240.27,611.66 205.10,611.66"/></g>
<g stroke="#000" stroke-width="1.85" stroke-linejoin="round"><polygon fill="#8760FF" points="127.57,644.42 162.74,644.42 162.74,608.54 127.57,608.54"/><polygon fill="#8B74DA" points="125.09,648.70 127.57,644.42 127.57,608.54 125.09,612.83"/><polygon fill="#896BEC" points="125.09,648.70 160.27,648.70 162.74,644.42 127.57,644.42"/></g>
<g stroke="#000" stroke-width="1.85" stroke-linejoin="round"><polygon fill="#D8C3FB" points="78.51,627.85 113.68,627.85 113.68,591.98 78.51,591.98"/><polygon fill="#D7CAEE" points="66.47,648.70 78.51,627.85 78.51,591.98 66.47,612.83"/><polygon fill="#D8C7F4" points="66.47,648.70 101.65,648.70 113.68,627.85 78.51,627.85"/></g>
<g stroke="#000" stroke-width="1.85" stroke-linejoin="round"><polygon fill="#DCC9FA" points="606.87,686.30 642.04,686.30 642.04,650.43 606.87,650.43"/><polygon fill="#DBCFEF" points="594.05,708.49 606.87,686.30 606.87,650.43 594.05,672.62"/><polygon fill="#DCCCF5" points="594.05,708.49 629.23,708.49 642.04,686.30 606.87,686.30"/></g>
<g stroke="#000" stroke-width="1.85" stroke-linejoin="round"><polygon fill="#F5F5F5" points="554.20,675.99 589.37,675.99 589.37,640.12 554.20,640.12"/><polygon fill="#F5F5F5" points="535.43,708.49 554.20,675.99 554.20,640.12 535.43,672.62"/><polygon fill="#F5F5F5" points="535.43,708.49 570.61,708.49 589.37,675.99 554.20,675.99"/></g>
<g stroke="#000" stroke-width="1.85" stroke-linejoin="round"><polygon fill="#9770FE" points="480.39,702.30 515.56,702.30 515.56,666.43 480.39,666.43"/><polygon fill="#9A82DE" points="476.81,708.49 480.39,702.30 480.39,666.43 476.81,672.62"/><polygon fill="#997AEE" points="476.81,708.49 511.99,708.49 515.56,702.30 480.39,702.30"/></g>
<g stroke="#000" stroke-width="1.85" stroke-linejoin="round"><polygon fill="#FBE8E3" points="439.32,671.91 474.49,671.91 474.49,636.03 439.32,636.03"/><polygon fill="#F6EAE6" points="418.19,708.49 439.32,671.91 439.32,636.03 418.19,672.62"/><polygon fill="#F9E9E5" points="418.19,708.49 453.37,708.49 474.49,671.91 439.32,671.91"/></g>
<g stroke="#000" stroke-width="1.85" stroke-linejoin="round"><polygon fill="#FAEDE9" points="379.92,673.25 415.09,673.25 415.09,637.38 379.92,637.38"/><polygon fill="#F7EEEC" points="359.57,708.49 379.92,673.25 379.92,637.38 359.57,672.62"/><polygon fill="#F8EDEA" points="359.57,708.49 394.75,708.49 415.09,673.25 379.92,673.25"/></g>
<g stroke="#000" stroke-width="1.85" stroke-linejoin="round"><polygon fill="#B28FFD" points="307.09,697.87 342.26,697.87 342.26,662.00 307.09,662.00"/><polygon fill="#B29CE5" points="300.95,708.49 307.09,697.87 307.09,662.00 300.95,672.62"/><polygon fill="#B295F1" points="300.95,708.49 336.13,708.49 342.26,697.87 307.09,697.87"/></g>
<g stroke="#000" stroke-width="1.85" stroke-linejoin="round"><polygon fill="#F1EDF6" points="259.99,677.91 295.16,677.91 295.16,642.03 259.99,642.03"/><polygon fill="#F1EEF4" points="242.33,708.49 259.99,677.91 259.99,642.03 242.33,672.62"/><polygon fill="#F1EEF5" points="242.33,708.49 277.51,708.49 295.16,677.91 259.99,677.91"/></g>
<g stroke="#000" stroke-width="1.85" stroke-linejoin="round"><polygon fill="#EDE6F7" points="200.42,679.56 235.59,679.56 235.59,643.68 200.42,643.68"/><polygon fill="#EDE8F3" points="183.71,708.49 200.42,679.56 200.42,643.68 183.71,672.62"/><polygon fill="#EDE7F5" points="183.71,708.49 218.89,708.49 235.59,679.56 200.42,679.56"/></g>
<g stroke="#000" stroke-width="1.85" stroke-linejoin="round"><polygon fill="#FBD9CE" points="148.72,667.58 183.89,667.58 183.89,631.70 148.72,631.70"/><polygon fill="#F3DDD5" points="125.09,708.49 148.72,667.58 148.72,631.70 125.09,672.62"/><polygon fill="#F7DBD2" points="125.09,708.49 160.27,708.49 183.89,667.58 148.72,667.58"/></g>
<g stroke="#000" stroke-width="1.85" stroke-linejoin="round"><polygon fill="#916AFE" points="69.58,703.10 104.76,703.10 104.76,667.23 69.58,667.23"/><polygon fill="#947DDD" points="66.47,708.49 69.58,703.10 69.58,667.23 66.47,672.62"/><polygon fill="#9374ED" points="66.47,708.49 101.65,708.49 104.76,703.10 69.58,703.10"/></g>
<defs><linearGradient id="lg" x1="0" y1="0" x2="0" y2="1"><stop offset="0.0000" stop-color="#FB0000"/><stop offset="0.0208" stop-color="#FB0000"/><stop offset="0.0417" stop-color="#FB0000"/><stop offset="0.0625" stop-color="#FB1607"/><stop offset="0.0833" stop-color="#FB2B14"/><stop offset="0.1042" stop-color="#FB391E"/><stop offset="0.1250" stop-color="#FB4527"/><stop offset="0.1458" stop-color="#FB4F30"/><stop offset="0.1667" stop-color="#FB5939"/><stop offset="0.1875" stop-color="#FB6241"/><stop offset="0.2083" stop-color="#FB6B4A"/><stop offset="0.2292" stop-color="#FB7353"/><stop offset="0.2500" stop-color="#FB7B5B"/><stop offset="0.2708" stop-color="#FB8464"/><stop offset="0.2917" stop-color="#FB8C6E"/><stop offset="0.3125" stop-color="#FB9477"/><stop offset="0.3333" stop-color="#FB9C81"/><stop offset="0.3542" stop-color="#FBA48B"/><stop offset="0.3750" stop-color="#FBAC95"/><stop offset="0.3958" stop-color="#FBB5A0"/><stop offset="0.4167" stop-color="#FBBEAC"/><stop offset="0.4375" stop-color="#FBC7B8"/><stop offset="0.4583" stop-color="#FBD1C5"/><stop offset="0.4792" stop-color="#F8DBD4"/><stop offset="0.5000" stop-color="#F1E8E6"/><stop offset="0.5208" stop-color="#E1D6F1"/><stop offset="0.5417" stop-color="#D7C4F3"/><stop offset="0.5625" stop-color="#CEB6F5"/><stop offset="0.5833" stop-color="#C6AAF6"/><stop offset="0.6042" stop-color="#BE9EF7"/><stop offset="0.6250" stop-color="#B794F8"/><stop offset="0.6458" stop-color="#B08AF9"/><stop offset="0.6667" stop-color="#A981FA"/><stop offset="0.6875" stop-color="#A178FA"/><stop offset="0.7083" stop-color="#9A70FB"/><stop offset="0.7292" stop-color="#9367FC"/><stop offset="0.7500" stop-color="#8B5FFC"/><stop offset="0.7708" stop-color="#8457FC"/><stop offset="0.7917" stop-color="#7C50FD"/><stop offset="0.8125" stop-color="#7348FD"/><stop offset="0.8333" stop-color="#6A40FD"/><stop offset="0.8542" stop-color="#6138FE"/><stop offset="0.8750" stop-color="#5730FE"/><stop offset="0.8958" stop-color="#4B28FE"/><stop offset="0.9167" stop-color="#3D1EFF"/><stop offset="0.9375" stop-color="#2B13FF"/><stop offset="0.9583" stop-color="#0702FF"/><stop offset="0.9792" stop-color="#0000FF"/><stop offset="1.0000" stop-color="#0000FF"/></linearGradient></defs><rect x="677.1" y="357.9" width="32.80" height="159.80" fill="url(#lg)"/><path d="M677.1,364.00h8.0M709.9,364.00h-8.0" stroke="#fff" stroke-width="1.9" fill="none"/><text x="716.0" y="373.55" font-size="26.67">1</text><path d="M677.1,438.70h8.0M709.9,438.70h-8.0" stroke="#fff" stroke-width="1.9" fill="none"/><text x="716.0" y="448.25" font-size="26.67">0.5</text><path d="M677.1,513.40h8.0M709.9,513.40h-8.0" stroke="#fff" stroke-width="1.9" fill="none"/><text x="716.0" y="522.95" font-size="26.67">0</text><text x="678.6" y="343.4" font-size="26.67" font-weight="bold">mat</text>
<text x="347.5" y="55" font-size="35.2" text-anchor="middle">This is a 3D heatmap</text>
<text x="47.4" y="164.44" font-size="32" text-anchor="end">I</text>
<text x="47.4" y="224.24" font-size="32" text-anchor="end">C</text>
<text x="47.4" y="284.03" font-size="32" text-anchor="end">E</text>
<text x="47.4" y="343.81" font-size="32" text-anchor="end">A</text>
<text x="47.4" y="403.61" font-size="32" text-anchor="end">H</text>
<text x="47.4" y="463.40" font-size="32" text-anchor="end">J</text>
<text x="47.4" y="523.19" font-size="32" text-anchor="end">D</text>
<text x="47.4" y="582.98" font-size="32" text-anchor="end">B</text>
<text x="47.4" y="642.76" font-size="32" text-anchor="end">F</text>
<text x="47.4" y="702.56" font-size="32" text-anchor="end">G</text>
<text transform="translate(94.86,728.5) rotate(-90)" font-size="32" text-anchor="end">e</text>
<text transform="translate(153.48,728.5) rotate(-90)" font-size="32" text-anchor="end">c</text>
<text transform="translate(212.10,728.5) rotate(-90)" font-size="32" text-anchor="end">h</text>
<text transform="translate(270.72,728.5) rotate(-90)" font-size="32" text-anchor="end">g</text>
<text transform="translate(329.34,728.5) rotate(-90)" font-size="32" text-anchor="end">f</text>
<text transform="translate(387.96,728.5) rotate(-90)" font-size="32" text-anchor="end">j</text>
<text transform="translate(446.58,728.5) rotate(-90)" font-size="32" text-anchor="end">b</text>
<text transform="translate(505.20,728.5) rotate(-90)" font-size="32" text-anchor="end">i</text>
<text transform="translate(563.82,728.5) rotate(-90)" font-size="32" text-anchor="end">d</text>
<text transform="translate(622.44,728.5) rotate(-90)" font-size="32" text-anchor="end">a</text>
</svg>
</body></html>
